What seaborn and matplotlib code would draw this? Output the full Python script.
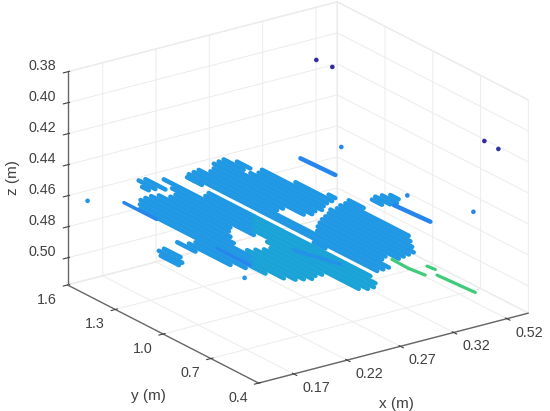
#!/usr/bin/env python3
import matplotlib
matplotlib.use("Agg")
import matplotlib.pyplot as plt
import seaborn as sns

# scan streaks run along y, so each one is x plus a y range
main_z = 0.465
main_x = [0.3162, 0.3105, 0.3105, 0.3049, 0.3049, 0.2992, 0.2992, 0.2935, 0.2935, 0.2935,
          0.2879, 0.2879, 0.2879, 0.2822, 0.2822, 0.2766, 0.2766, 0.2709, 0.2709, 0.2652,
          0.2652, 0.2596, 0.2596, 0.2539, 0.2482, 0.2434, 0.2434, 0.2377, 0.2321, 0.2264,
          0.2207, 0.2151, 0.2151, 0.2094, 0.2094, 0.2038, 0.2038, 0.1981, 0.1924, 0.1868,
          0.1811, 0.1755, 0.1698, 0.1641, 0.1585, 0.1423, 0.1366, 0.1318, 0.3316, 0.3372,
          0.3429, 0.3485]
main_y_start = [1.034, 1.122, 1.017, 1.293, 1.011, 1.465, 0.994, 1.584, 1.448, 0.997,
                1.630, 1.462, 0.970, 1.623, 0.953, 1.616, 0.936, 1.578, 0.913, 1.561,
                0.887, 1.597, 0.853, 1.590, 1.583, 1.562, 0.766, 1.388, 1.371, 1.594,
                1.504, 1.634, 1.445, 1.638, 1.439, 1.579, 1.474, 1.484, 1.482, 1.475,
                1.441, 1.403, 1.016, 1.019, 1.055, 1.030, 1.024, 0.980, 0.991, 1.008,
                1.004, 0.989]
main_y_end = [0.940, 1.080, 0.619, 1.063, 0.571, 1.056, 0.522, 1.500, 1.039, 0.474,
              1.504, 1.012, 0.467, 1.016, 0.461, 0.999, 0.454, 1.013, 0.500, 1.105,
              0.483, 1.105, 0.403, 0.400, 0.400, 1.468, 0.693, 1.105, 1.067, 1.029,
              0.991, 1.508, 0.953, 1.533, 1.062, 1.537, 1.034, 0.986, 0.927, 0.763,
              0.725, 0.687, 0.701, 0.758, 0.940, 0.926, 0.877, 0.865, 0.928, 0.914,
              0.910, 0.937]

tail_z = 0.475
tail_x = [0.2565, 0.2509, 0.2452, 0.2395, 0.2339, 0.2282, 0.2226, 0.2169, 0.2112, 0.2056, 0.1999, 0.1943]
tail_y_start = [1.231, 1.193, 1.155, 1.117, 0.995, 0.936, 0.940, 0.955, 0.969, 0.889, 0.851, 0.813]
tail_y_end = [0.498, 0.429, 0.401, 0.400, 0.420, 0.612, 0.616, 0.599, 0.613, 0.627, 0.663, 0.740]

# thin bright strips, these drift a little in x
strip_z = [0.45, 0.45, 0.45, 0.45, 0.46]
strip_x_start = [0.1451, 0.3089, 0.3103, 0.1478, 0.2123]
strip_x_end = [0.1451, 0.3104, 0.3129, 0.1478, 0.2239]
strip_y_start = [1.3001, 1.2884, 0.7121, 0.7317, 0.683]
strip_y_end = [1.0942, 1.0787, 0.4988, 0.5257, 0.468]
strip_width = [2.5, 3.2, 3.2, 2.2, 2.6]

green_z = 0.505
green_x_start = [0.3467, 0.3461, 0.3604, 0.3557]
green_x_end = [0.3461, 0.3484, 0.3615, 0.3585]
green_y_start = [0.9664, 0.858, 0.8381, 0.744]
green_y_end = [0.858, 0.7691, 0.7936, 0.5222]

stray_x = [0.3535, 0.3550, 0.3598, 0.3683, 0.1434, 0.3481, 0.3304, 0.3518, 0.1477]
stray_y = [1.487, 1.3966, 0.4741, 0.443, 1.517, 1.2939, 0.761, 0.4892, 0.5597]
stray_z = [0.405, 0.405, 0.405, 0.41, 0.46, 0.45, 0.45, 0.45, 0.46]

x_ticks = [0.17, 0.22, 0.27, 0.32, 0.37]
x_tick_labels = ["0.17", "0.22", "0.27", "0.32", "0.52"]
y_ticks = [0.4, 0.7, 1.0, 1.3, 1.6]
z_ticks = [0.38, 0.40, 0.42, 0.44, 0.46, 0.48, 0.50]
z_colors = ["#352a9c", "#2c58cc", "#2a7ff2", "#2098e4", "#17aecb", "#3ecb7a"]

sns.set_theme(style="white", rc={"lines.solid_capstyle": "round"})
plt.rcParams["font.family"] = ["Liberation Sans", "DejaVu Sans"]
text_color = "#404040"
grid_color = "#ececec"

cmap = sns.blend_palette(z_colors, as_cmap=True)
norm = plt.Normalize(0.405, 0.505)

fig = plt.figure(figsize=(5.5, 4.11), dpi=100)
ax = fig.add_axes([0.0316, 0.0182, 1, 1], projection="3d", computed_zorder=False)
ax.set_proj_type("ortho")
ax.view_init(elev=21.4, azim=-125.4)
ax.set_box_aspect((331, 330, 229), zoom=1.229)


def draw_streaks(xs0, xs1, ys0, ys1, zs, widths, order):
    for x0, x1, y0, y1, z, lw in zip(xs0, xs1, ys0, ys1, zs, widths):
        ax.plot([x0, x1], [y0, y1], [z, z], color=cmap(norm(z)), lw=lw,
                clip_on=False, zorder=order)


draw_streaks(main_x, main_x, main_y_start, main_y_end, [main_z] * len(main_x), [3.3] * len(main_x), 2)
draw_streaks(tail_x, tail_x, tail_y_start, tail_y_end, [tail_z] * len(tail_x), [3.3] * len(tail_x), 2)
draw_streaks(strip_x_start, strip_x_end, strip_y_start, strip_y_end, strip_z, strip_width, 3)
draw_streaks(green_x_start, green_x_end, green_y_start, green_y_end, [green_z] * 4, [2.3] * 4, 3)
ax.scatter(stray_x, stray_y, stray_z, c=stray_z, cmap=cmap, norm=norm, s=11,
           linewidths=0, depthshade=False, clip_on=False, zorder=4)

ax.set_xlim(0.137, 0.39)
ax.set_ylim(0.4, 1.6)
ax.set_zlim(0.5175, 0.38)
ax.set_xticks(x_ticks)
ax.set_xticklabels(x_tick_labels, ha="left", va="center")
ax.set_yticks(y_ticks)
ax.set_yticklabels([f"{t:.1f}" for t in y_ticks], va="bottom")
ax.set_zticks(z_ticks)
ax.set_zticklabels([f"{t:.2f}" for t in z_ticks], va="baseline")
ax.tick_params(labelsize=10.3, colors=text_color)
ax.tick_params(axis="x", pad=-1.1)
ax.tick_params(axis="y", pad=3.8)
ax.tick_params(axis="z", pad=0.5)

for axis in (ax.xaxis, ax.yaxis, ax.zaxis):
    axis.set_pane_color("white")
    axis.pane.set_edgecolor(grid_color)
    axis.line.set_color("#666666")
    axis.line.set_linewidth(1.0)
    axis._axinfo["grid"]["color"] = grid_color
    axis._axinfo["grid"]["linewidth"] = 0.7
    axis._axinfo["tick"]["color"] = "#666666"
    axis._axinfo["tick"]["linewidth"] = {True: 0.8, False: 0.8}
ax.grid(True)

fig.text(396 / 550, 1 - 404 / 411, "x (m)", ha="center", va="center", color=text_color, fontsize=11)
fig.text(148 / 550, 1 - 396 / 411, "y (m)", ha="center", va="center", color=text_color, fontsize=11)
fig.text(13 / 550, 1 - 178 / 411, "z (m)", ha="center", va="center", rotation=90, color=text_color, fontsize=11)

fig.savefig("out.png", dpi=100, facecolor="white")
